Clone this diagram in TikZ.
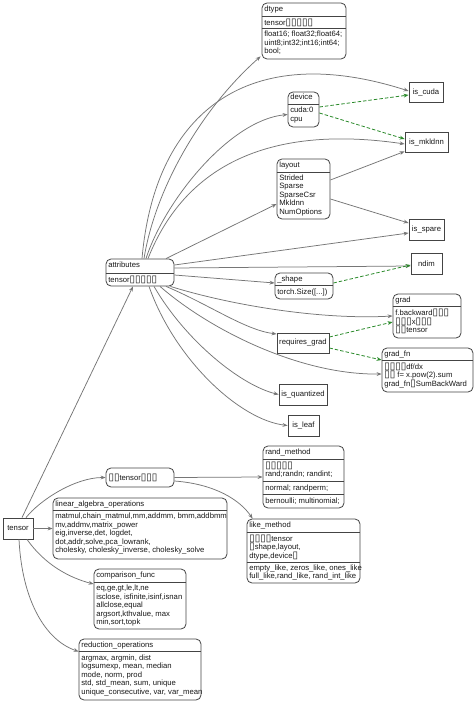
\documentclass[tikz,border=0pt]{standalone}
\usepackage{fontspec}
\setmainfont{Liberation Sans}
\newfontfamily\symfont{DejaVu Sans}
\usetikzlibrary{arrows.meta,positioning}
\newcommand{\unk}[1]{{\symfont\fontsize{10}{8.5}\selectfont #1}}
\definecolor{edgegray}{HTML}{767676}
\definecolor{boxgray}{HTML}{444444}
\definecolor{depgreen}{HTML}{2A8A2A}
\tikzset{
  cls/.style={draw=boxgray, line width=0.8pt, rounded corners=5pt, fill=white, inner sep=0pt},
  attrbox/.style={draw=boxgray, line width=0.8pt, fill=white, inner sep=0pt,
    font=\fontsize{7.7}{8.5}\selectfont, text=black!90},
  txt/.style={anchor=north west, inner sep=0pt, align=left,
    font=\fontsize{7.7}{8.5}\selectfont, text=black!90,
    execute at begin node={\rule{0pt}{6.2pt}}},
  divider/.style={draw=boxgray, line width=0.7pt},
  link/.style={draw=edgegray, line width=0.75pt, -{Stealth[length=5pt,width=3.8pt]}},
  dep/.style={draw=depgreen, line width=0.8pt, dash pattern=on 3.5pt off 2pt, -{Stealth[length=5pt,width=3.8pt]}},
}
\begin{document}
\begin{tikzpicture}[x=1pt,y=-1pt]
  \useasboundingbox (0,0) rectangle (474,703);
  \fill[white] (0,0) rectangle (474,703);

  % right column: attributes of a tensor
  \node[cls, minimum width=84pt, minimum height=56pt] (dtype) at (304,31) {};
  \draw[divider] (dtype.west |- 0,16) coordinate (dtype-s1) -- (dtype.east |- 0,16);
  \draw[divider] (dtype.west |- 0,28) coordinate (dtype-s2) -- (dtype.east |- 0,28);
  \node[txt, below right=2.8pt and 2.5pt of dtype.north west] (dtype-h) {dtype};
  \node[txt, below right=2.8pt and 2.5pt of dtype-s1] (dtype-t) {tensor\unk{▯▯▯▯▯}};
  \node[txt, below right=2.8pt and 2.5pt of dtype-s2] (dtype-b) {float16; float32;float64;\\uint8;int32;int16;int64;\\bool;};

  \node[cls, minimum width=31pt, minimum height=35pt] (device) at (303.5,109.5) {};
  \draw[divider] (device.west |- 0,104) coordinate (device-s1) -- (device.east |- 0,104);
  \node[txt, below right=2pt and 2.5pt of device.north west] (device-h) {device};
  \node[txt, below right=2.8pt and 2.5pt of device-s1] (device-b) {cuda:0\\cpu};

  \node[cls, minimum width=53pt, minimum height=60pt] (layout) at (303.5,189) {};
  \draw[divider] (layout.west |- 0,172) coordinate (layout-s1) -- (layout.east |- 0,172);
  \node[txt, below right=2.5pt and 2.5pt of layout.north west] (layout-h) {layout};
  \node[txt, below right=2.3pt and 2.5pt of layout-s1] (layout-b) {Strided\\Sparse\\SparseCsr\\Mkldnn\\NumOptions};

  \node[cls, minimum width=58pt, minimum height=26pt] (shape) at (304,286) {};
  \draw[divider] (shape.west |- 0,285) coordinate (shape-s1) -- (shape.east |- 0,285);
  \node[txt, below right=2.5pt and 2.5pt of shape.north west] (shape-h) {\_shape};
  \node[txt, below right=2.8pt and 2.5pt of shape-s1] (shape-b) {torch.Size([...])};

  \node[cls, minimum width=68pt, minimum height=44pt] (grad) at (427,316) {};
  \draw[divider] (grad.west |- 0,306) coordinate (grad-s1) -- (grad.east |- 0,306);
  \node[txt, below right=2.5pt and 2.5pt of grad.north west] (grad-h) {grad};
  \node[txt, below right=3.2pt and 2.5pt of grad-s1] (grad-b) {f.backward\unk{▯▯▯}\\\unk{▯▯▯}x\unk{▯▯▯}\\\unk{▯▯}tensor};

  \node[cls, minimum width=91pt, minimum height=44pt] (gradfn) at (427.5,370) {};
  \draw[divider] (gradfn.west |- 0,360) coordinate (gradfn-s1) -- (gradfn.east |- 0,360);
  \node[txt, below right=2.5pt and 2.5pt of gradfn.north west] (gradfn-h) {grad\_fn};
  \node[txt, below right=2.8pt and 2.5pt of gradfn-s1] (gradfn-b) {\unk{▯▯▯▯}df/dx\\\unk{▯▯} f= x.pow(2).sum\\grad\_fn\unk{▯}SumBackWard};

  \node[attrbox, minimum width=34pt, minimum height=20pt] (is_cuda) at (426,92) {is\_cuda};
  \node[attrbox, minimum width=43pt, minimum height=20pt] (is_mkldnn) at (426.5,142) {is\_mkldnn};
  \node[attrbox, minimum width=35pt, minimum height=21pt] (is_spare) at (426.5,229.5) {is\_spare};
  \node[attrbox, minimum width=31pt, minimum height=21pt] (ndim) at (426.5,263.5) {ndim};
  \node[attrbox, minimum width=52pt, minimum height=20pt] (reqgrad) at (303,343) {requires\_grad};
  \node[attrbox, minimum width=48pt, minimum height=21pt] (isq) at (303,394.5) {is\_quantized};
  \node[attrbox, minimum width=31pt, minimum height=21pt] (isleaf) at (303.5,425.5) {is\_leaf};

  % middle column
  \node[cls, minimum width=68pt, minimum height=27pt] (attr) at (140,272.5) {};
  \draw[divider] (attr.west |- 0,273) coordinate (attr-s1) -- (attr.east |- 0,273);
  \node[txt, below right=2.5pt and 2.5pt of attr.north west] (attr-h) {attributes};
  \node[txt, below right=2.6pt and 2.5pt of attr-s1] (attr-b) {tensor\unk{▯▯▯▯▯}};

  \node[cls, minimum height=19pt, text width=63pt, inner xsep=2.5pt, align=left,
    font=\fontsize{7.7}{8.5}\selectfont, text=black!90] (create) at (140,477.5) {\unk{▯▯}tensor\unk{▯▯▯}};

  \node[cls, minimum width=174pt, minimum height=61pt] (linalg) at (140,528.5) {};
  \draw[divider] (linalg.west |- 0,510) coordinate (linalg-s1) -- (linalg.east |- 0,510);
  \node[txt, below right=2.8pt and 2.5pt of linalg.north west] (linalg-h) {linear\_algebra\_operations};
  \node[txt, below right=2.8pt and 2.5pt of linalg-s1] (linalg-b) {matmul,chain\_matmul,mm,addmm, bmm,addbmm\\mv,addmv,matrix\_power\\eig,inverse,det, logdet,\\dot,addr,solve,pca\_lowrank,\\cholesky, cholesky\_inverse, cholesky\_solve};

  \node[cls, minimum width=92pt, minimum height=60pt] (cmp) at (140,599) {};
  \draw[divider] (cmp.west |- 0,582) coordinate (cmp-s1) -- (cmp.east |- 0,582);
  \node[txt, below right=2.8pt and 2.5pt of cmp.north west] (cmp-h) {comparison\_func};
  \node[txt, below right=2.8pt and 2.5pt of cmp-s1] (cmp-b) {eq,ge,gt,le,lt,ne\\isclose, isfinite,isinf,isnan\\allclose,equal\\argsort,kthvalue, max\\min,sort,topk};

  \node[cls, minimum width=122pt, minimum height=61pt] (reduce) at (140,669.5) {};
  \draw[divider] (reduce.west |- 0,651.5) coordinate (reduce-s1) -- (reduce.east |- 0,651.5);
  \node[txt, below right=2.6pt and 2.5pt of reduce.north west] (reduce-h) {reduction\_operations};
  \node[txt, below right=2.8pt and 2.5pt of reduce-s1] (reduce-b) {argmax, argmin, dist\\logsumexp, mean, median\\mode, norm, prod\\std, std\_mean, sum, unique\\unique\_consecutive, var, var\_mean};

  \node[cls, minimum width=81pt, minimum height=62pt] (rand) at (303.5,477) {};
  \draw[divider] (rand.west |- 0,459) coordinate (rand-s1) -- (rand.east |- 0,459);
  \draw[divider] (rand.west |- 0,481) coordinate (rand-s2) -- (rand.east |- 0,481);
  \draw[divider] (rand.west |- 0,494) coordinate (rand-s3) -- (rand.east |- 0,494);
  \node[txt, below right=2.6pt and 2.5pt of rand.north west] (rand-h) {rand\_method};
  \node[txt, below right=2.6pt and 2.5pt of rand-s1] (rand-b1) {\unk{▯▯▯▯▯}\\rand;randn; randint;};
  \node[txt, below right=2.6pt and 2.5pt of rand-s2] (rand-b2) {normal; randperm;};
  \node[txt, below right=2.6pt and 2.5pt of rand-s3] (rand-b3) {bernoulli; multinomial;};

  \node[cls, minimum width=113pt, minimum height=64pt] (like) at (303.5,551) {};
  \draw[divider] (like.west |- 0,532) coordinate (like-s1) -- (like.east |- 0,532);
  \draw[divider] (like.west |- 0,562) coordinate (like-s2) -- (like.east |- 0,562);
  \node[txt, below right=2.8pt and 2.5pt of like.north west] (like-h) {like\_method};
  \node[txt, below right=2.6pt and 2.5pt of like-s1] (like-b1) {\unk{▯▯▯▯}tensor\\\unk{▯}shape,layout,\\dtype,device\unk{▯}};
  \node[txt, below right=2.6pt and 2.5pt of like-s2] (like-b2) {empty\_like, zeros\_like, ones\_like\\full\_like,rand\_like, rand\_int\_like};

  % root
  \node[attrbox, minimum width=30pt, minimum height=21pt] (tensor) at (18,528.5) {tensor};

  % edges from the root
  \draw[link] ([xshift=4pt]tensor.north) -- ([xshift=-7pt]attr.south);
  \draw[link] ([xshift=8pt]tensor.north) .. controls (40,500) and (75,477.5) .. (create.west);
  \draw[link] (tensor.east) -- (linalg.west);
  \draw[link] ([xshift=9pt]tensor.south) .. controls (45,565) and (70,578) .. ([yshift=15pt]cmp.west);
  \draw[link] ([xshift=1pt]tensor.south) .. controls (22,600) and (45,640) .. ([yshift=18pt]reduce.west);

  \draw[link] (create.east) -- (rand.west);
  \draw[link] ([yshift=-3.5pt]create.east) .. controls (215,484) and (240,500) .. ([xshift=6pt]like.north west);

  % edges from attributes
  \draw[link] ([xshift=4pt]attr.north) .. controls (155,190) and (200,110) .. ([shift={(-1pt,3pt)}]dtype.south west);
  \draw[link] ([xshift=2pt]attr.north) .. controls (155,110) and (250,40) .. ([yshift=1pt]is_cuda.west);
  \draw[link] ([xshift=6pt]attr.north) .. controls (165,200) and (230,120) .. ([yshift=-5pt]device.west);
  \draw[link] ([xshift=8pt]attr.north) .. controls (175,190) and (240,120) .. ([yshift=-2pt]is_mkldnn.west);
  \draw[link] ([xshift=26pt]attr.north) -- ([yshift=-15pt]layout.west);
  \draw[link] ([yshift=7.5pt]attr.east) -- ([yshift=-3.5pt]is_spare.west);
  \draw[link] ([yshift=4.5pt]attr.east) -- ([yshift=-2.5pt]ndim.west);
  \draw[link] ([yshift=-2.5pt]attr.east) -- ([yshift=3pt]shape.west);
  \draw[link] ([xshift=-4pt]attr.south east) .. controls (230,305) and (320,320) .. (grad.west);
  \draw[link] ([xshift=26pt]attr.south) .. controls (210,305) and (245,330) .. ([yshift=9pt]reqgrad.west);
  \draw[link] ([xshift=20pt]attr.south) .. controls (210,330) and (300,375) .. ([yshift=-4pt]gradfn.west);
  \draw[link] ([xshift=14pt]attr.south) .. controls (185,340) and (240,385) .. (isq.west);
  \draw[link] ([xshift=9pt]attr.south) .. controls (175,360) and (240,420) .. (isleaf.west);

  \draw[link] ([yshift=9pt]layout.east) -- ([yshift=1pt]is_mkldnn.south west);
  \draw[link] ([yshift=-10pt]layout.east) -- ([yshift=6.5pt]is_spare.west);

  % derived attributes
  \draw[dep] ([yshift=2.5pt]device.east) -- ([yshift=-3pt]is_cuda.west);
  \draw[dep] ([yshift=-3.5pt]device.east) -- ([yshift=3pt]is_mkldnn.west);
  \draw[dep] ([yshift=3pt]shape.east) -- ([yshift=-1.5pt]ndim.west);
  \draw[dep] ([yshift=6pt]reqgrad.east) -- ([yshift=-6pt]grad.west);
  \draw[dep] ([yshift=-5pt]reqgrad.east) -- ([yshift=10pt]gradfn.west);
\end{tikzpicture}
\end{document}
